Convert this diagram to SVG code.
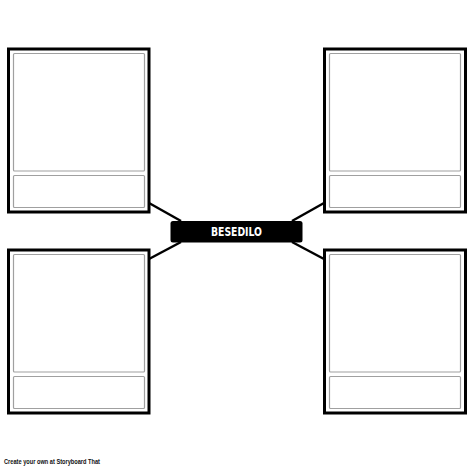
<svg xmlns="http://www.w3.org/2000/svg" width="474" height="470" viewBox="0 0 474 470">
<style>
.frame{fill:#fff;stroke:#000;stroke-width:3}
.pane{fill:#fff;stroke:#a0a0a0;stroke-width:1.2}
.conn{stroke:#000;stroke-width:2.5;fill:none}
.title{font-family:"DejaVu Sans","Liberation Sans",sans-serif;font-weight:bold;font-stretch:condensed;font-size:13px;fill:#fff}
.foot{font-family:"Liberation Sans",Arial,sans-serif;font-weight:bold;font-size:7.5px;fill:#111}
</style>
<rect width="474" height="470" fill="#fff"/>
<g id="connectors">
<line class="conn" x1="149" y1="203" x2="181" y2="221"/>
<line class="conn" x1="324" y1="203" x2="292" y2="221"/>
<line class="conn" x1="181" y1="242" x2="149" y2="259"/>
<line class="conn" x1="292" y1="242" x2="324" y2="259"/>
</g>
<g id="box-top-left">
<rect class="frame" x="8.5" y="49" width="140.5" height="163"/>
<rect class="pane" x="13.5" y="53.5" width="131" height="117.5" rx="1"/>
<rect class="pane" x="13.5" y="175.5" width="131" height="32" rx="1"/>
</g>
<g id="box-top-right">
<rect class="frame" x="324.5" y="49" width="141" height="163"/>
<rect class="pane" x="329.5" y="53.5" width="131" height="117.5" rx="1"/>
<rect class="pane" x="329.5" y="175.5" width="131" height="32" rx="1"/>
</g>
<g id="box-bottom-left">
<rect class="frame" x="8.5" y="250" width="140.5" height="163"/>
<rect class="pane" x="13.5" y="254.5" width="131" height="117.5" rx="1"/>
<rect class="pane" x="13.5" y="376.5" width="131" height="32" rx="1"/>
</g>
<g id="box-bottom-right">
<rect class="frame" x="324.5" y="250" width="141" height="163"/>
<rect class="pane" x="329.5" y="254.5" width="131" height="117.5" rx="1"/>
<rect class="pane" x="329.5" y="376.5" width="131" height="32" rx="1"/>
</g>
<g id="center-label">
<rect x="170.5" y="221" width="132" height="21.5" rx="2.5" fill="#000"/>
<text class="title" x="236.5" y="236" text-anchor="middle" textLength="51" lengthAdjust="spacingAndGlyphs">BESEDILO</text>
</g>
<text class="foot" x="4" y="464" textLength="96" lengthAdjust="spacingAndGlyphs">Create your own at Storyboard That</text>
</svg>
